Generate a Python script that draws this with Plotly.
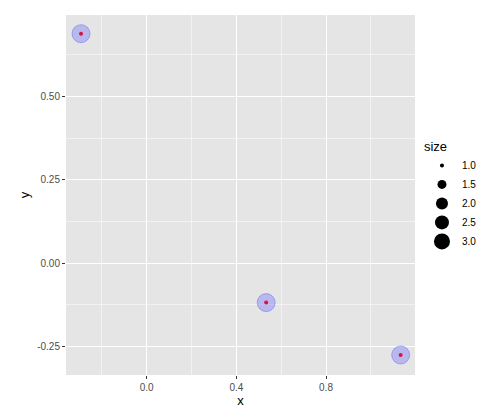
import plotly.graph_objects as go

x = [-0.293, 0.533, 1.133]
y = [0.688, -0.118, -0.275]
size_levels = ["1.0", "1.5", "2.0", "2.5", "3.0"]
legend_px = [4, 9, 12, 14, 16]

fig = go.Figure()
fig.add_trace(go.Scatter(x=x, y=y, mode="markers", showlegend=False, hoverinfo="skip",
    marker=dict(size=18, color="rgba(80,80,255,0.3)", line=dict(color="rgba(80,80,255,0.4)", width=1))))
fig.add_trace(go.Scatter(x=x, y=y, mode="markers", showlegend=False,
    marker=dict(size=4, color="#d3134f")))
for lab, s in zip(size_levels, legend_px):
    fig.add_trace(go.Scatter(x=[None], y=[None], mode="markers", name=lab,
        marker=dict(size=s, color="black")))

ax = dict(showline=False, zeroline=False, gridcolor="white", gridwidth=1.2, ticks="outside",
          ticklen=3, tickcolor="#333", automargin=False,
          tickfont=dict(color="#4d4d4d", size=10, family="Liberation Sans"))
fig.update_layout(
    width=488, height=406, margin=dict(l=58, r=81, t=7, b=39),
    plot_bgcolor="#e5e5e5", paper_bgcolor="white",
    font=dict(family="Liberation Sans", color="black"),
    xaxis=dict(ax, range=[-0.36, 1.197], tickvals=[0, 0.4, 0.8, 1.2], ticktext=["0.0", "0.4", "0.8", "1.2"],
               minor=dict(tickvals=[-0.2, 0.2, 0.6, 1.0], showgrid=True, gridcolor="rgba(255,255,255,0.5)", gridwidth=0.6, ticklen=0),
               title=dict(text="x", font=dict(size=13), standoff=2)),
    yaxis=dict(ax, range=[-0.335, 0.744], tickvals=[-0.25, 0, 0.25, 0.5], ticktext=["-0.25", "0.00", "0.25", "0.50"],
               minor=dict(tickvals=[-0.125, 0.125, 0.375, 0.625], showgrid=True, gridcolor="rgba(255,255,255,0.5)", gridwidth=0.6, ticklen=0),
               title=dict(text="y", font=dict(size=13), standoff=4)),
    legend=dict(title=dict(text="size", font=dict(size=13)), x=1.02, y=0.5, yanchor="middle",
                font=dict(size=10), itemsizing="trace", tracegroupgap=0),
)
fig.write_html("out.html")
